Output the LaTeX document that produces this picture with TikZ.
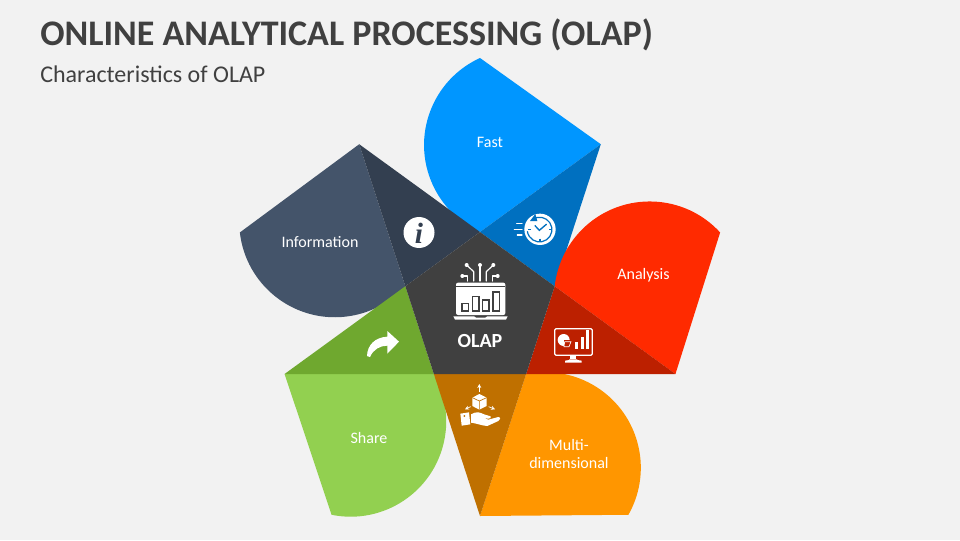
\documentclass[tikz,border=0pt]{standalone}
\usepackage{fontspec}
\usetikzlibrary{arrows.meta}
\setmainfont{Carlito}
\newfontfamily\ifont{Liberation Serif}
\definecolor{bgc}{HTML}{F2F2F2}
\definecolor{txt}{HTML}{404040}
\definecolor{bluel}{HTML}{0096FF}
\definecolor{blued}{HTML}{0070C0}
\definecolor{redl}{HTML}{FF2A00}
\definecolor{redd}{HTML}{BC2000}
\definecolor{orgl}{HTML}{FF9600}
\definecolor{orgd}{HTML}{BF7000}
\definecolor{grnl}{HTML}{92D050}
\definecolor{grnd}{HTML}{6FA82F}
\definecolor{slal}{HTML}{44546A}
\definecolor{slad}{HTML}{333F50}
\tikzset{
  lab/.style={text=white,font=\fontsize{12}{14}\selectfont,align=center,inner sep=0pt},
  zoomA/.style={shift={(400,340)},x=0.25pt,y=-0.25pt},
  zoomB/.style={shift={(280,260)},x=0.25pt,y=-0.25pt},
  zoomC/.style={shift={(420,490)},x=0.25pt,y=-0.25pt},
  wl/.style={draw=white,line width=0.9pt,line cap=round,line join=round},
  tinyarrow/.style={draw=white,line width=0.5pt,-{Stealth[length=3pt,width=3pt]}}
}
\newcommand{\lightfan}[2]{%
  \begin{scope}[shift={(480,229.5)},rotate=#1]
    \fill[#2] (90:252.5) arc[start angle=114.5,end angle=245.5,radius=95.6] -- (54:205.5) -- cycle;
  \end{scope}}
\newcommand{\darkfan}[2]{%
  \begin{scope}[shift={(480,229.5)},rotate=#1]
    \fill[#2] (90:78.5) -- (54:205.5) -- (18:78.5) -- cycle;
  \end{scope}}
\begin{document}
\begin{tikzpicture}[x=0.75pt,y=0.75pt]
\fill[bgc] (0,0) rectangle (960,540);
\useasboundingbox (0,0) rectangle (960,540);
\lightfan{0}{bluel}
\lightfan{-144}{orgl}
\lightfan{-216}{grnl}
\lightfan{-288}{slal}
\darkfan{0}{blued}
\darkfan{-144}{orgd}
\darkfan{-216}{grnd}
\darkfan{-288}{slad}
\lightfan{-72}{redl}
\darkfan{-72}{redd}
\begin{scope}[shift={(480,229.5)}]
  \fill[txt] (90:78.5) -- (18:78.5) -- (-54:78.5) -- (-126:78.5) -- (162:78.5) -- cycle;
\end{scope}
% titles
\node[anchor=west,inner sep=0pt,text=txt,font=\fontsize{27}{30}\selectfont\bfseries] (title) at (40,505) {ONLINE ANALYTICAL PROCESSING (OLAP)};
\node[anchor=west,inner sep=0pt,text=txt,font=\fontsize{18}{20}\selectfont] (subtitle) at (40,466) {Characteristics of OLAP};
% labels
\node[lab] (fast) at (490,398) {Fast};
\node[lab] (info) at (320,298) {Information};
\node[lab] (analysis) at (643.5,265) {Analysis};
\node[lab] (share) at (369,102) {Share};
\node[lab] (multi) at (569,86) {Multi-\\dimensional};
\node[lab,font=\fontsize{15}{18}\selectfont\bfseries] (olap) at (480,199) {OLAP};
% info icon
\fill[white] (419,307.5) circle[radius=15.5];
\node[inner sep=0pt,text=slad,font=\fontsize{22}{24}\ifont\bfseries\itshape] (iglyph) at (419,307) {i};
% olap icon (coordinates: 3x from 400,200)
\begin{scope}[zoomA]
  \fill[white,rounded corners=1.5pt] (168,345) -- (168,248) -- (316,248) -- (316,345) -- cycle;
  \draw[txt,line width=0.5pt] (168,259) -- (316,259);
  \fill[white] (160,349) -- (222,349) -- (228,353) -- (256,353) -- (262,349) -- (323,349) -- (318,359) -- (165,359) -- cycle;
  \draw[txt,line width=0.9pt,fill=white] (186,311) rectangle (205,333);
  \draw[txt,line width=0.9pt,fill=white] (217,290) rectangle (237,333);
  \draw[txt,line width=0.9pt,fill=white] (248,300) rectangle (267,333);
  \draw[txt,line width=0.9pt,fill=white] (279,276) rectangle (298,333);
  \draw[wl] (240,243) -- (240,195);
  \draw[wl] (221,243) -- (221,215) -- (200,195);
  \draw[wl] (259,243) -- (259,215) -- (280,195);
  \draw[wl] (203,243) -- (203,228) -- (187,228);
  \draw[wl] (277,243) -- (277,228) -- (293,228);
  \foreach \p in {(240,195),(200,195),(280,195),(187,228),(293,228)} \fill[white] \p circle[radius=6];
\end{scope}
% clock icon
\begin{scope}[zoomC]
  \fill[white] (360,538) circle[radius=47];
  \draw[blued,line width=0.9pt] (338,508) arc[start angle=-124,end angle=172,radius=37];
  \fill[blued] (346,492) -- (330,513) -- (352,513) -- cycle;
  \draw[blued,line width=1pt,line cap=round] (345,527) -- (358,541) -- (379,523);
  \draw[blued,line width=0.8pt] (360,566) -- (360,575) (388,538) -- (397,538);
\draw[blued,line width=0.8pt] (333,538) -- (324,538);
  \draw[white,line width=0.9pt,line cap=round] (290,520) -- (306,520) (283,538) -- (306,538) (292,555) -- (306,555);
\end{scope}
% monitor icon
\begin{scope}[zoomA]
  \draw[white,line width=0.9pt,rounded corners=1pt] (464,386) rectangle (577,466);
  \fill[white] (507,478) -- (532,478) -- (532,480) -- (545,482) -- (545,488) -- (495,488) -- (495,482) -- (507,480) -- cycle;
  \fill[white] (511,468) rectangle (527,478);
  \foreach \x/\t in {525/425,542/411,558/390} \fill[white] (\x,447) rectangle (\x+10,\t);
  \fill[white] (491,420) circle[radius=18];
  \fill[redd] (491,420) -- (515,420) -- (515,437) -- (491,437) -- cycle;
  \draw[white,line width=0.5pt] (494,425) -- (513,425) -- (507,440) -- (492,440) -- cycle;
\end{scope}
% share arrow (coordinates: 3x from 280,280)
\begin{scope}[zoomB]
  \fill[white] (357,185) -- (322,153) -- (322,170) .. controls (285,172) and (262,195) .. (261,228) -- (270,231) .. controls (280,208) and (300,197) .. (322,197) -- (322,221) -- cycle;
\end{scope}
% cube and hand icon
\begin{scope}[zoomB]
  \fill[white] (598,342) -- (620,353) -- (620,378) -- (598,389) -- (577,378) -- (577,353) -- cycle;
  \draw[orgd,line width=0.5pt] (577,353) -- (598,363) -- (620,353) (598,363) -- (598,389);
  \draw[tinyarrow] (598,336) -- (598,312);
  \draw[tinyarrow] (572,380) -- (555,388);
  \draw[tinyarrow] (626,380) -- (645,388);
  \fill[white] (541,401) -- (567,397) -- (571,433) -- (545,437) -- cycle;
  \fill[orgd] (553,408) circle[radius=3];
  \fill[white] (573,403) .. controls (590,393) and (600,397) .. (612,403) -- (632,409) .. controls (636,412) and (630,417) .. (625,416) -- (610,414) -- (625,419) -- (655,411) .. controls (664,412) and (660,420) .. (655,423) -- (622,438) .. controls (605,437) and (590,430) .. (573,428) -- cycle;
\end{scope}
\end{tikzpicture}
\end{document}
